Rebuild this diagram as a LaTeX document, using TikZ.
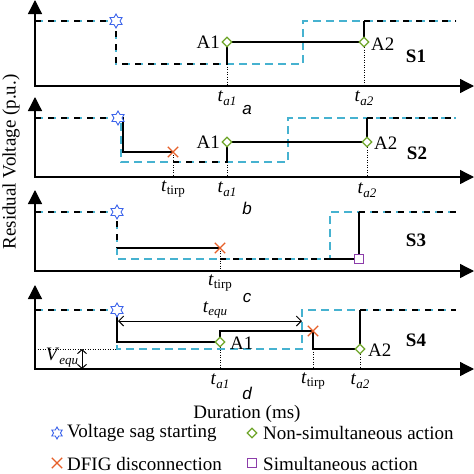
\documentclass[tikz,border=0pt]{standalone}
\usepackage{fontspec}
\setmainfont{Liberation Serif}
\setsansfont{Liberation Sans}
\usetikzlibrary{arrows.meta,shapes.geometric,shapes.misc}
\definecolor{cy}{RGB}{70,178,208}
\definecolor{stb}{RGB}{60,100,235}
\definecolor{xo}{RGB}{230,95,40}
\definecolor{dg}{RGB}{110,165,40}
\definecolor{sq}{RGB}{140,60,170}
\newcommand{\tlab}[2]{\textit{#1}\raisebox{-0.45ex}{\fontsize{13}{13}\selectfont #2}}
\begin{document}
\begin{tikzpicture}[x=1pt,y=-1pt,
  every node/.style={font=\fontsize{19}{22}\selectfont, inner sep=0pt},
  axl/.style={line width=1.3pt, {Triangle[length=14pt,width=14pt]}-{Triangle[length=14pt,width=14pt]}},
  cyl/.style={cy, line width=1.2pt, dash pattern=on 8pt off 5pt},
  blk/.style={black, line width=1.1pt},
  ovl/.style={black, line width=1.1pt, dash pattern=on 6pt off 7pt},
  dotl/.style={black, line width=1pt, dash pattern=on 1pt off 1.5pt},
  starmk/.style={star, star points=6, star point ratio=1.73, draw=stb, fill=white, line width=0.9pt, minimum size=14pt, inner sep=0pt},
  dmk/.style={diamond, draw=dg, fill=white, line width=1.2pt, minimum size=10pt, inner sep=0pt},
  xmk/.style={cross out, draw=xo, line width=1.3pt, minimum size=9pt, inner sep=0pt},
  sqmk/.style={rectangle, draw=sq, fill=white, line width=1pt, minimum size=9pt, inner sep=0pt},
  sub/.style={font=\fontsize{17}{20}\selectfont\sffamily\itshape},
  sl/.style={font=\fontsize{19}{22}\selectfont\bfseries},
  darr/.style={line width=1pt, {Straight Barb[length=5pt,width=10pt]}-{Straight Barb[length=5pt,width=10pt]}}
]
\useasboundingbox (0,0) rectangle (474,474);

% y label
\node[rotate=90] (ylab) at (11,162) {Residual Voltage (p.u.)};

%% ---------------- Panel 1 ----------------
\draw[axl] (35,0) -- (35,86) -- (474,86);
\draw[cyl] (35,21) -- (116,21) -- (116,64) -- (303,64) -- (303,21) -- (456,21);
\draw[ovl] (35,21) -- (116,21) -- (116,64) -- (227,64);
\draw[blk] (227,64) -- (227,42) -- (364,42) -- (364,21);
\draw[ovl] (364,21) -- (456,21);
\draw[dotl] (227,64) -- (227,86);
\draw[dotl] (364,42) -- (364,86);
\node[starmk] (st1) at (116,21) {};
\node[dmk] (a11) at (227,42) {};
\node[dmk] (a21) at (364,42) {};
\node[anchor=east] (la11) at (220,42) {A1};
\node[anchor=west] (la21) at (371,44) {A2};
\node (t11) at (227,98) {\tlab{t}{\textit{a1}}};
\node (t21) at (364,98) {\tlab{t}{\textit{a2}}};
\node[sl] (s1) at (416,56) {S1};
\node[sub] (pa) at (247,110) {a};

%% ---------------- Panel 2 ----------------
\draw[axl] (35,97) -- (35,177) -- (474,177);
\draw[cyl] (35,118) -- (121,118) -- (121,162) -- (288,162) -- (288,118) -- (456,118);
\draw[ovl] (35,118) -- (121,118);
\draw[blk] (121,118) -- (123,118) -- (123,152) -- (173,152);
\draw[ovl] (173,162) -- (227,162);
\draw[blk] (227,162) -- (227,142) -- (367,142) -- (367,118);
\draw[ovl] (367,118) -- (456,118);
\draw[dotl] (173,152) -- (173,177);
\draw[dotl] (227,162) -- (227,177);
\draw[dotl] (367,142) -- (367,177);
\node[starmk] (st2) at (118,118) {};
\node[xmk] (x2) at (173,152) {};
\node[dmk] (a12) at (227,142) {};
\node[dmk] (a22) at (367,142) {};
\node[anchor=east] (la12) at (220,142) {A1};
\node[anchor=west] (la22) at (374,143) {A2};
\node (tt2) at (173,189) {\tlab{t}{tirp}};
\node (t12) at (227,189) {\tlab{t}{\textit{a1}}};
\node (t22) at (367,190) {\tlab{t}{\textit{a2}}};
\node[sl] (s2) at (417,153) {S2};
\node[sub] (pb) at (247,208) {b};

%% ---------------- Panel 3 ----------------
\draw[axl] (35,190) -- (35,271) -- (474,271);
\draw[cyl] (35,212) -- (117,212) -- (117,259) -- (330,259) -- (330,212) -- (456,212);
\draw[ovl] (35,212) -- (117,212) -- (117,248);
\draw[blk] (117,248) -- (220,248);
\draw[ovl] (220,259) -- (330,259);
\draw[blk] (330,259) -- (359,259) -- (359,212);
\draw[ovl] (359,212) -- (456,212);
\draw[dotl] (220,248) -- (220,271);
\node[starmk] (st3) at (117,212) {};
\node[xmk] (x3) at (220,248) {};
\node[sqmk] (sq3) at (359,259) {};
\node (tt3) at (220,283) {\tlab{t}{tirp}};
\node[sl] (s3) at (416,240) {S3};
\node[sub] (pc) at (247,298) {c};

%% ---------------- Panel 4 ----------------
\draw[axl] (35,285) -- (35,369) -- (474,369);
\draw[cyl] (35,310) -- (117,310) -- (117,349) -- (302,349) -- (302,310) -- (456,310);
\draw[ovl] (35,310) -- (117,310);
\draw[blk] (117,310) -- (117,342) -- (220,342) -- (220,331) -- (313,331) -- (313,349) -- (360,349) -- (360,310);
\draw[ovl] (360,310) -- (456,310);
\draw[dotl] (35,349) -- (117,349);
\draw[dotl] (220,342) -- (220,369);
\draw[dotl] (313,349) -- (313,369);
\draw[dotl] (360,349) -- (360,369);
\node[starmk] (st4) at (117,310) {};
\node[dmk] (a14) at (220,342) {};
\node[xmk] (x4) at (313,331) {};
\node[dmk] (a24) at (360,349) {};
\coordinate (te1) at (118,321);
\coordinate (te2) at (302,321);
\draw[darr] (te1) -- (te2);
\node (teq) at (215,310) {\tlab{t}{\textit{equ}}};
\coordinate (ve1) at (82,349);
\coordinate (ve2) at (82,369);
\draw[line width=1pt, {Straight Barb[length=4pt,width=9pt]}-{Straight Barb[length=4pt,width=9pt]}] (ve1) -- (ve2);
\node (veq) at (62,358) {\tlab{V}{\textit{equ}}};
\node[anchor=west] (la14) at (230,343) {A1};
\node[anchor=west] (la24) at (368,350) {A2};
\node (t14) at (220,381) {\tlab{t}{\textit{a1}}};
\node (tt4) at (313,381) {\tlab{t}{tirp}};
\node (t24) at (360,381) {\tlab{t}{\textit{a2}}};
\node[sl] (s4) at (416,340) {S4};
\node[sub] (pd) at (247,393) {d};

%% ---------------- Legend ----------------
\node (dur) at (247,414) {Duration (ms)};
\node[starmk, minimum size=12pt] (lst) at (57,433) {};
\node[anchor=west] (lt1) at (67,433) {Voltage sag starting};
\node[dmk] (ldm) at (252,433) {};
\node[anchor=west] (lt2) at (263,433) {Non-simultaneous action};
\node[xmk] (lx) at (57,463) {};
\node[anchor=west] (lt3) at (67,464) {DFIG disconnection};
\node[sqmk] (lsq) at (252,463) {};
\node[anchor=west] (lt4) at (263,464) {Simultaneous action};
\end{tikzpicture}
\end{document}
